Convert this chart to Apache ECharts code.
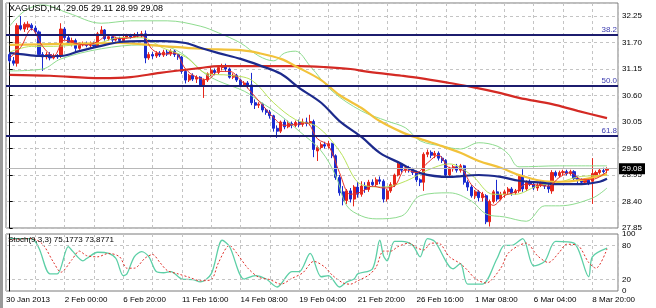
<!DOCTYPE html>
<html><head><meta charset="utf-8">
<script src="https://cdn.jsdelivr.net/npm/echarts@6/dist/echarts.min.js"></script>
<style>html,body{margin:0;padding:0;background:#fff}#c{width:656px;height:308px}</style>
</head><body><div id="c"></div>
<script>
// ---- data (bar index 0..163, H4 bars) ----
// [open, close, low, high]
const ohlc = [
[31.45,31.32,31.28,31.50],[31.32,31.27,31.22,31.40],[31.27,32.05,31.20,32.10],[32.05,31.98,31.95,32.25],
[31.98,32.08,31.92,32.12],[32.02,32.08,31.96,32.14],[32.06,32.00,31.95,32.10],[32.00,31.92,31.88,32.05],
[31.92,31.45,31.40,31.95],[31.45,31.40,31.11,31.50],[31.40,31.45,31.35,31.50],[31.45,31.38,31.33,31.50],
[31.38,31.42,31.35,31.47],[31.42,31.40,31.36,31.46],[31.42,31.98,31.38,32.10],[31.98,31.80,31.75,32.02],
[31.80,31.70,31.65,31.86],[31.70,31.74,31.62,31.80],[31.74,31.58,31.50,31.78],[31.58,31.65,31.55,31.70],
[31.65,31.68,31.62,31.72],[31.68,31.64,31.60,31.72],[31.64,31.68,31.60,31.72],[31.68,31.63,31.60,31.72],
[31.63,31.88,31.60,31.92],[31.88,31.96,31.84,32.04],[31.96,31.78,31.74,31.98],[31.78,31.82,31.74,31.86],
[31.82,31.75,31.70,31.86],[31.75,31.78,31.72,31.82],[31.78,31.74,31.70,31.82],[31.74,31.80,31.72,31.84],
[31.80,31.84,31.78,31.88],[31.84,31.82,31.78,31.88],[31.82,31.86,31.80,31.90],[31.86,31.84,31.80,31.92],
[31.84,31.88,31.80,31.94],[31.88,31.38,31.27,31.95],[31.38,31.45,31.34,31.50],[31.45,31.42,31.36,31.50],
[31.42,31.48,31.38,31.52],[31.48,31.44,31.40,31.52],[31.44,31.50,31.40,31.55],[31.50,31.46,31.42,31.56],
[31.46,31.52,31.42,31.56],[31.52,31.45,31.40,31.55],[31.45,31.40,31.34,31.48],[31.40,31.10,31.05,31.42],
[31.10,30.92,30.85,31.14],[30.92,31.02,30.88,31.05],[31.02,30.94,30.90,31.06],[30.94,30.98,30.86,31.02],
[30.98,30.82,30.78,31.00],[30.80,30.92,30.55,30.95],[30.92,31.05,30.88,31.08],[31.05,31.12,31.00,31.18],
[31.12,31.08,31.02,31.16],[31.08,31.18,31.04,31.22],[31.18,31.22,31.12,31.26],[31.22,31.15,31.10,31.26],
[31.15,30.98,30.95,31.18],[30.98,31.02,30.94,31.06],[31.02,30.92,30.88,31.05],[30.92,30.82,30.78,30.95],
[30.82,30.86,30.78,30.90],[30.86,30.80,30.75,30.90],[30.82,30.45,30.40,31.07],[30.45,30.40,30.32,30.52],
[30.40,30.42,30.34,30.46],[30.42,30.30,30.25,30.45],[30.30,30.25,30.20,30.34],[30.25,30.18,30.12,30.30],
[30.18,29.92,29.85,30.20],[29.92,29.86,29.72,29.98],[29.86,30.05,29.82,30.08],[30.05,29.95,29.90,30.10],
[29.95,30.02,29.92,30.08],[30.02,29.98,29.92,30.06],[29.98,30.04,29.94,30.08],[30.04,30.00,29.94,30.10],
[30.00,30.05,29.95,30.12],[30.05,30.02,29.96,30.14],[30.02,30.06,29.98,30.20],[30.06,29.48,29.32,30.10],
[29.45,29.52,29.24,29.56],[29.52,29.58,29.48,29.63],[29.58,29.55,29.50,29.64],[29.55,29.60,29.50,29.66],
[29.60,29.35,29.30,29.62],[29.35,28.90,28.85,29.38],[28.90,28.58,28.52,28.95],[28.60,28.42,28.32,28.72],
[28.42,28.62,28.35,28.66],[28.62,28.45,28.38,28.68],[28.45,28.70,28.30,28.74],[28.70,28.55,28.48,28.80],
[28.55,28.72,28.50,28.82],[28.72,28.65,28.58,28.80],[28.65,28.80,28.60,28.85],[28.80,28.75,28.70,28.86],
[28.75,28.85,28.70,28.90],[28.85,28.82,28.76,28.92],[28.82,28.45,28.38,28.86],[28.45,28.62,28.40,28.66],
[28.62,28.75,28.58,28.80],[28.75,28.95,28.70,28.98],[28.95,29.18,28.92,29.22],[29.18,29.05,29.00,29.20],
[29.05,29.10,29.00,29.14],[29.10,29.06,29.00,29.14],[29.06,29.00,28.95,29.10],[29.00,28.85,28.80,29.04],
[28.85,28.80,28.72,28.88],[28.80,29.38,28.62,29.42],[29.38,29.42,29.32,29.48],[29.42,29.36,29.30,29.46],
[29.36,29.40,29.30,29.45],[29.40,29.30,29.25,29.44],[29.30,29.25,29.20,29.34],[29.25,28.95,28.90,29.28],
[28.95,29.08,28.92,29.12],[29.08,29.12,29.02,29.16],[29.12,29.05,29.00,29.18],[29.05,29.14,29.00,29.18],
[29.14,28.80,28.75,29.16],[28.80,28.70,28.62,28.84],[28.70,28.52,28.48,28.74],[28.52,28.60,28.45,28.64],
[28.60,28.48,28.40,28.64],[28.48,28.55,28.40,28.60],[28.52,27.98,27.93,28.55],[27.98,28.40,27.88,28.44],
[28.40,28.60,28.36,28.64],[28.60,28.45,28.40,28.85],[28.45,28.55,28.42,28.60],[28.55,28.60,28.48,28.64],
[28.60,28.66,28.55,28.70],[28.66,28.58,28.52,28.70],[28.58,28.62,28.54,28.66],[28.62,28.92,28.58,28.96],
[28.92,28.66,28.60,29.07],[28.66,28.80,28.62,28.84],[28.80,28.76,28.72,28.86],[28.76,28.68,28.64,28.80],
[28.68,28.74,28.62,28.78],[28.74,28.78,28.70,28.82],[28.78,28.72,28.66,28.82],[28.72,28.66,28.58,28.76],
[28.62,29.00,28.56,29.05],[29.00,28.94,28.90,29.04],[28.94,29.00,28.90,29.04],[29.00,29.02,28.95,29.06],
[29.02,28.98,28.94,29.06],[28.98,29.02,28.94,29.06],[29.02,28.88,28.84,29.05],[28.88,28.84,28.78,28.92],
[28.84,28.80,28.76,28.88],[28.80,28.84,28.76,28.88],[28.84,28.78,28.74,28.88],[28.82,28.98,28.35,29.30],
[28.94,29.00,28.90,29.04],[29.00,29.05,28.96,29.08],[29.04,29.02,28.98,29.10],[29.05,29.08,28.99,29.11]
];
// indicator lines: [bar, price]
const redMA = [[0,31.03],[11,31.01],[25,30.96],[33,30.98],[41,31.07],[52,31.17],[57,31.21],[68,31.21],[79,31.21],[86,31.19],[93,31.15],[98,31.09],[107,31.01],[112,30.96],[120,30.86],[126,30.78],[134,30.65],[139,30.55],[148,30.42],[155,30.28],[163,30.13]];
const yellowMA = [[0,31.65],[14,31.67],[30,31.69],[41,31.63],[52,31.57],[63,31.54],[68,31.48],[74,31.36],[79,31.17],[85,30.92],[90,30.61],[96,30.34],[101,30.07],[107,29.84],[112,29.70],[118,29.55],[123,29.41],[128,29.24],[134,29.10],[139,28.95],[145,28.83],[150,28.81],[156,28.85],[163,28.97]];
const blueMA = [[0,31.48],[3,31.46],[8,31.42],[14,31.42],[19,31.52],[25,31.63],[30,31.71],[36,31.73],[42,31.73],[48,31.69],[52,31.59],[57,31.48],[63,31.36],[68,31.23],[74,31.05],[79,30.76],[85,30.45],[90,30.07],[96,29.74],[101,29.41],[107,29.18],[112,28.99],[120,28.91],[128,28.95],[134,28.91],[139,28.83],[145,28.79],[150,28.76],[156,28.76],[161,28.81],[163,28.87]];
const fastMA = [[0,31.38],[3,31.60],[6,31.98],[9,31.62],[12,31.42],[15,31.75],[18,31.68],[21,31.65],[24,31.72],[27,31.86],[30,31.78],[33,31.80],[36,31.84],[39,31.55],[42,31.46],[45,31.48],[48,31.15],[51,30.98],[54,30.93],[57,31.10],[60,31.10],[63,30.92],[66,30.66],[69,30.40],[72,30.14],[75,29.98],[78,30.00],[81,30.03],[84,29.70],[87,29.56],[90,29.00],[93,28.55],[96,28.60],[99,28.72],[102,28.68],[105,28.72],[108,29.06],[111,29.00],[114,29.20],[117,29.36],[120,29.10],[123,29.08],[126,28.75],[129,28.55],[132,28.32],[135,28.52],[138,28.60],[141,28.76],[144,28.74],[147,28.72],[150,28.90],[153,29.00],[156,28.86],[159,28.86],[163,29.02]];
const midLine = [[0,31.50],[6,31.62],[12,31.62],[18,31.65],[24,31.68],[30,31.80],[36,31.80],[42,31.58],[48,31.40],[54,31.05],[60,31.02],[66,30.92],[72,30.45],[78,30.10],[84,29.95],[90,29.45],[96,28.75],[102,28.70],[108,28.82],[114,29.05],[120,29.18],[126,28.95],[132,28.55],[138,28.55],[144,28.72],[150,28.80],[156,28.92],[163,28.94]];
const bandUpper = [[0,32.04],[4,32.35],[9,32.48],[16,32.31],[25,32.10],[33,32.15],[43,32.15],[52,32.04],[57,31.90],[63,31.69],[68,31.42],[72,31.32],[75,31.48],[78,31.52],[82,31.21],[88,30.69],[96,30.28],[103,30.07],[108,29.93],[112,29.66],[118,29.55],[123,29.49],[128,29.62],[133,29.55],[136,29.39],[139,29.12],[150,29.14],[163,29.14]];
const bandLower = [[0,31.11],[9,31.15],[14,31.36],[25,31.57],[36,31.65],[43,31.61],[48,31.42],[53,31.07],[57,30.90],[64,30.69],[68,30.49],[74,30.18],[79,29.86],[85,29.45],[89,28.93],[92,28.31],[96,28.10],[100,28.04],[107,28.10],[112,28.52],[120,28.58],[126,28.41],[130,28.14],[135,28.08],[141,27.99],[146,28.31],[150,28.31],[159,28.47],[163,28.68]];
const fibLevels = [31.86, 30.80, 29.76];
const fibNames = ['38.2', '50.0', '61.8'];
const lastPrice = 29.08;
const stochK = [[0,92],[6,92],[8,75],[11,30],[13,30],[16,78],[17,71],[20,53],[21,57],[24,68],[27,66],[29,57],[31,27],[32,30],[34,60],[36,69],[38,60],[40,34],[42,32],[44,34],[47,21],[50,20],[52,16],[55,30],[58,89],[60,78],[64,21],[67,27],[70,21],[73,7],[77,34],[79,34],[82,66],[85,25],[87,27],[90,7],[92,16],[94,21],[95,30],[99,39],[101,89],[102,62],[103,53],[105,87],[107,87],[110,80],[112,60],[114,92],[116,87],[121,39],[123,48],[125,12],[129,12],[133,57],[135,80],[137,80],[140,92],[143,44],[146,52],[149,87],[154,84],[158,25],[159,60],[163,75.18]];
const stochD = [[0,90],[6,92],[9,82],[12,50],[14,33],[17,55],[19,70],[21,62],[24,60],[27,66],[30,60],[32,40],[34,40],[37,58],[39,64],[41,50],[43,36],[46,30],[49,24],[52,18],[55,20],[57,50],[60,80],[62,66],[65,40],[68,24],[71,20],[74,12],[77,22],[80,32],[83,52],[86,42],[88,28],[91,14],[93,12],[95,18],[98,28],[100,42],[102,70],[104,70],[106,78],[109,84],[111,76],[113,72],[115,84],[117,84],[120,60],[123,48],[125,36],[127,22],[130,14],[134,40],[136,66],[139,80],[141,84],[144,62],[147,50],[150,68],[152,82],[155,80],[158,50],[160,40],[163,73.88]];
const dateTickBars = [-1, 15, 31, 47, 63, 79, 95, 111, 127, 143, 159];
const dateTickLabels = ['30 Jan 2013','2 Feb 00:00','6 Feb 20:00','11 Feb 16:00','14 Feb 08:00','19 Feb 04:00','21 Feb 20:00','26 Feb 16:00','1 Mar 08:00','6 Mar 04:00','8 Mar 20:00'];
const priceTicks = ['27.85','28.40','28.95','29.50','30.05','30.60','31.15','31.70','32.25'];
const stochTickLabels = {0:'0', 20:'20', 80:'80', 100:'100'};
const headerText = 'XAGUSD,H4  29.05 29.11 28.99 29.08';
const stochText = 'Stoch(9,3,3) 75.1773 73.8771';

// ---- chart ----
const FONT = 'Liberation Sans, Arial, sans-serif';
const chart = echarts.init(document.getElementById('c'), null, {renderer: 'canvas'});
const dashGrid = {show: true, lineStyle: {color: '#c4c4c4', type: [3, 3], width: 1}};
const dateMap = {};
dateTickBars.forEach((b, i) => dateMap[b] = dateTickLabels[i]);
function xAx(gi, showLabels) {
  return {
    type: 'value', gridIndex: gi, min: -1, max: 166, interval: 8,
    axisLine: {show: false}, axisTick: {show: false},
    splitLine: dashGrid,
    axisLabel: showLabels ? {
      show: true, showMaxLabel: false, align: 'left', margin: 5,
      fontFamily: FONT, fontSize: 8, color: '#000',
      formatter: v => dateMap[v] || ''
    } : {show: false}
  };
}
const candleData = ohlc.map((v, i) => [i, v[0], v[1], v[2], v[3]]);
function line(data, color, width, z) {
  return {type: 'line', xAxisIndex: 0, yAxisIndex: 0, data: data, showSymbol: false, symbol: 'none',
    smooth: 0.35, lineStyle: {color: color, width: width}, silent: true, z: z || 3};
}
const fibMarks = fibLevels.map((lv, i) => ({
  yAxis: lv,
  lineStyle: {color: '#1c1c6e', width: 2, type: 'solid'},
  label: {show: true, position: 'insideEndTop', formatter: fibNames[i], color: '#3b3bb0',
    fontFamily: FONT, fontSize: 8, distance: 1}
}));
fibMarks.push({
  yAxis: lastPrice,
  lineStyle: {color: '#b8b8b8', width: 1, type: 'solid'},
  label: {show: true, position: 'end', formatter: lastPrice.toFixed(2), color: '#fff', backgroundColor: '#000',
    fontFamily: FONT, fontSize: 8, padding: [2, 3, 1, 3], distance: 1}
});

const option = {
  animation: false,
  backgroundColor: '#ffffff',
  grid: [
    {left: 6, right: 38, top: 3, height: 225, show: true, borderColor: '#7a7a7a', borderWidth: 1, backgroundColor: '#fff'},
    {left: 6, right: 38, top: 234, height: 57, show: true, borderColor: '#7a7a7a', borderWidth: 1, backgroundColor: '#fff'}
  ],
  xAxis: [xAx(0, false), xAx(1, true)],
  yAxis: [
    {type: 'value', gridIndex: 0, position: 'right', min: 27.85, max: 32.52, interval: 0.55,
      axisLine: {show: true, lineStyle: {color: '#000'}},
      axisTick: {show: true, length: 3, lineStyle: {color: '#000'}},
      splitLine: dashGrid,
      axisLabel: {show: true, showMaxLabel: false, margin: 4, fontFamily: FONT, fontSize: 8, color: '#000',
        formatter: v => { const s = v.toFixed(2); return priceTicks.indexOf(s) >= 0 ? s : ''; }}},
    {type: 'value', gridIndex: 1, position: 'right', min: 0, max: 100, interval: 20,
      axisLine: {show: true, lineStyle: {color: '#000'}},
      axisTick: {show: false},
      splitLine: {show: false},
      axisLabel: {show: true, margin: 4, fontFamily: FONT, fontSize: 8, color: '#000',
        formatter: v => stochTickLabels[v] || ''}}
  ],
  series: [
    {type: 'candlestick', xAxisIndex: 0, yAxisIndex: 0, data: candleData, barWidth: 2.6,
      encode: {x: 0, y: [1, 2, 3, 4]}, silent: true, z: 2,
      itemStyle: {color: '#e6261a', color0: '#1a2bd0', borderColor: '#e6261a', borderColor0: '#1a2bd0', borderWidth: 1},
      markLine: {symbol: 'none', silent: true, animation: false, data: fibMarks}},
    line(bandUpper, '#8fdc8f', 1),
    line(bandLower, '#8fdc8f', 1),
    line(midLine, '#b9e35c', 1),
    line(fastMA, '#e8322a', 1, 4),
    line(redMA, '#d42a24', 2.2),
    line(yellowMA, '#f2c23a', 2.2),
    line(blueMA, '#1c2a8c', 2.2),
    {type: 'line', xAxisIndex: 1, yAxisIndex: 1, data: stochK, showSymbol: false, symbol: 'none', smooth: 0.3,
      lineStyle: {color: '#5ccfa6', width: 1.3}, silent: true,
      markLine: {symbol: 'none', silent: true, animation: false, label: {show: false},
        lineStyle: {color: '#c4c4c4', type: [3, 3], width: 1},
        data: [{yAxis: 20}, {yAxis: 80}]}},
    {type: 'line', xAxisIndex: 1, yAxisIndex: 1, data: stochD, showSymbol: false, symbol: 'none', smooth: 0.3,
      lineStyle: {color: '#e0302a', width: 1, type: [2, 2]}, silent: true}
  ],
  graphic: [
    {type: 'rect', shape: {x: 0, y: 0, width: 3, height: 308}, style: {fill: '#9a9a9a'}, z: 10},
    {type: 'text', left: 9, top: 4, style: {text: headerText, font: '9px ' + FONT, fill: '#000'}, z: 10},
    {type: 'text', left: 8, top: 236, style: {text: stochText, font: '8px ' + FONT, fill: '#000'}, z: 10}
  ]
};
chart.setOption(option);
</script></body></html>
